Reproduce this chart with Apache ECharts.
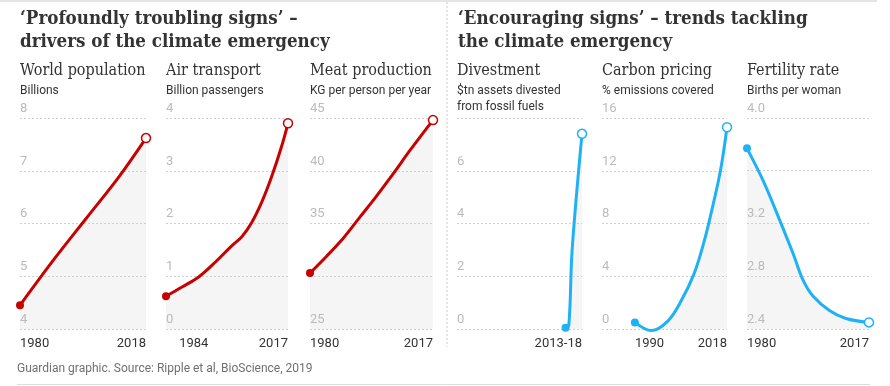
<!DOCTYPE html>
<html>
<head>
<meta charset="utf-8">
<script src="https://cdn.jsdelivr.net/npm/echarts@6/dist/echarts.min.js"></script>
<style>
  html, body { margin: 0; padding: 0; background: #fff; }
  #chart { width: 890px; height: 386px; }
</style>
</head>
<body>
<div id="chart"></div>
<script>
// [year, value] pairs
var population = [[1980, 4.45], [1990, 5.3], [2000, 6.1], [2010, 6.9], [2018, 7.62]];
var airTransport = [[1980, 0.62], [1985, 0.8], [1990, 0.99], [1995, 1.27], [2000, 1.58], [2003, 1.75],
    [2006, 2.02], [2009, 2.4], [2012, 2.88], [2015, 3.45], [2017, 3.9]];
var meat = [[1980, 30.3], [1985, 31.9], [1990, 33.6], [1995, 35.6], [2000, 37.6], [2005, 39.7],
    [2010, 41.9], [2017, 44.8]];
var divestment = [[2013, 0.05], [2014, 0.15], [2015, 3.0], [2018, 7.4]];
var carbonPricing = [[1990, 0.5], [1995, -0.12], [2000, 0.6], [2004, 2.1], [2008, 4.2], [2011, 6.6],
    [2013, 8.6], [2016, 12.0], [2018, 15.3]];
var fertility = [[1980, 3.77], [1985, 3.52], [1990, 3.22], [1994, 2.97], [1997, 2.77], [2000, 2.65],
    [2005, 2.54], [2010, 2.48], [2017, 2.45]];

var chartTitles = ['World population', 'Air transport', 'Meat production', 'Divestment', 'Carbon pricing', 'Fertility rate'];
var chartSubtitles = ['Billions', 'Billion passengers', 'KG per person per year',
    '$tn assets divested\nfrom fossil fuels', '% emissions covered', 'Births per woman'];

var xTicks = [[1980, 2018], [1984, 2017], [1980, 2017], [2018], [1990, 2018], [1980, 2017]];
var xTickText = [null, null, null, ['2013-18'], null, null];
var xMax = [2018, 2017, 2017, 2018, 2018, 2017];
var yMin = [4, 0, 25, 0, 0, 2.4];
var yMax = [8, 4, 45, 8, 16, 4.0];
var yStep = [1, 1, 5, 2, 4, 0.4];
var yHidden = [[], [], [30], [8], [], [3.6]];
var yDecimals = [0, 0, 0, 0, 0, 1];

var allData = [population, airTransport, meat, divestment, carbonPricing, fertility];
var gridLeft = [20, 166, 310, 457, 602, 747];
var gridWidth = [126, 122, 123, 125, 125, 122];
var xAlign = ['left', 'left', 'left', 'right', 'left', 'left'];

var RED = '#c70000';
var BLUE = '#1fb1f5';
var serif = '"DejaVu Serif Condensed", "DejaVu Serif", serif';
var sans = 'Roboto, "Noto Sans", sans-serif';

var chart = echarts.init(document.getElementById('chart'));

var grids = [], xAxes = [], yAxes = [], series = [], graphics = [];

for (var i = 0; i < allData.length; i++) {
    var color = i < 3 ? RED : BLUE;
    var data = allData[i];

    grids.push({left: gridLeft[i], top: 118, width: gridWidth[i], height: 211});

    xAxes.push({
        type: 'value',
        gridIndex: i,
        min: 1980,
        max: xMax[i],
        axisLine: {show: false},
        axisTick: {show: false},
        splitLine: {show: false},
        axisLabel: {
            customValues: xTicks[i],
            align: xAlign[i],
            alignMaxLabel: 'right',
            color: '#333',
            fontSize: 13,
            fontFamily: sans,
            margin: 8,
            formatter: (function (idx) {
                return function (v) {
                    if (xTickText[idx]) {
                        return xTickText[idx][xTicks[idx].indexOf(v)];
                    }
                    return String(v);
                };
            })(i)
        }
    });

    yAxes.push({
        type: 'value',
        gridIndex: i,
        z: 2,
        min: yMin[i],
        max: yMax[i],
        interval: yStep[i],
        axisLine: {show: false},
        axisTick: {show: false},
        splitLine: {lineStyle: {color: '#cfcfcf', type: [2, 2]}},
        axisLabel: {
            inside: true,
            margin: 0,
            color: '#bbb',
            fontSize: 13,
            fontFamily: sans,
            verticalAlign: 'bottom',
            padding: [0, 0, 3, 0],
            formatter: (function (idx) {
                return function (v) {
                    for (var k = 0; k < yHidden[idx].length; k++) {
                        if (Math.abs(yHidden[idx][k] - v) < 1e-6) return '';
                    }
                    return v.toFixed(yDecimals[idx]);
                };
            })(i)
        }
    });

    // grey fill under the curve, below grid lines
    series.push({
        type: 'line',
        xAxisIndex: i,
        yAxisIndex: i,
        data: data,
        smooth: 0.35,
        clip: false,
        symbol: 'none',
        lineStyle: {width: 0, opacity: 0},
        areaStyle: {color: '#f5f5f5', opacity: 1},
        z: 1
    });
    series.push({
        type: 'line',
        xAxisIndex: i,
        yAxisIndex: i,
        data: data,
        smooth: 0.35,
        clip: false,
        symbol: 'none',
        lineStyle: {color: color, width: 3},
        z: 3
    });

    // start point filled, end point open
    series.push({
        type: 'scatter',
        xAxisIndex: i,
        yAxisIndex: i,
        clip: false,
        data: [data[0]],
        symbolSize: 8,
        itemStyle: {color: color, opacity: 1},
        z: 5
    });
    series.push({
        type: 'scatter',
        xAxisIndex: i,
        yAxisIndex: i,
        clip: false,
        data: [data[data.length - 1]],
        symbolSize: 9,
        itemStyle: {color: '#fff', borderColor: color, borderWidth: 1.5, opacity: 1},
        z: 5
    });

    graphics.push({
        type: 'text',
        left: gridLeft[i],
        top: 63,
        style: {text: chartTitles[i], font: '16px ' + serif, fill: '#333'}
    });
    graphics.push({
        type: 'text',
        left: gridLeft[i],
        top: 83,
        style: {text: chartSubtitles[i], font: '12px ' + sans, fill: '#333', lineHeight: 16}
    });
}

graphics.push(
    {type: 'line', shape: {x1: 0, y1: 1, x2: 877, y2: 1}, style: {stroke: '#dcdcdc', lineWidth: 1.5}},
    {type: 'line', shape: {x1: 447, y1: 2, x2: 447, y2: 347}, style: {stroke: '#ccc', lineWidth: 1, lineDash: [2, 2]}},
    {type: 'line', shape: {x1: 17, y1: 384.5, x2: 870, y2: 384.5}, style: {stroke: '#ddd', lineWidth: 1}},
    {
        type: 'text', left: 20, top: 8,
        style: {text: '‘Profoundly troubling signs’ –\ndrivers of the climate emergency',
            font: 'bold 18.6px ' + serif, fill: '#333', lineHeight: 23}
    },
    {
        type: 'text', left: 458, top: 8,
        style: {text: '‘Encouraging signs’ – trends tackling\nthe climate emergency',
            font: 'bold 18.6px ' + serif, fill: '#333', lineHeight: 23}
    },
    {
        type: 'text', left: 17, top: 363,
        style: {text: 'Guardian graphic. Source: Ripple et al, BioScience, 2019',
            font: '12px ' + sans, fill: '#707070'}
    }
);

chart.setOption({
    animation: false,
    grid: grids,
    xAxis: xAxes,
    yAxis: yAxes,
    series: series,
    graphic: graphics
});
</script>
</body>
</html>
